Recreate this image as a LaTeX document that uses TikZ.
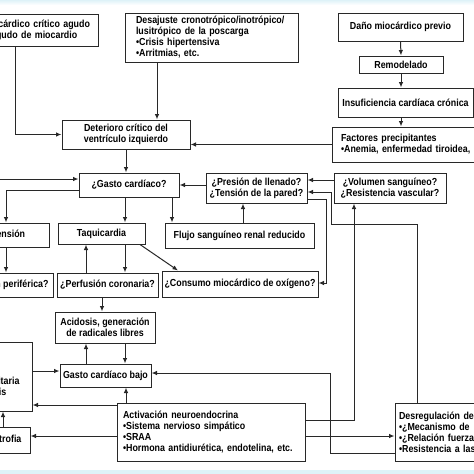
\documentclass[tikz,border=0pt]{standalone}
\usepackage{fontspec}
\setmainfont{Liberation Sans}[FakeStretch=0.87]
\usetikzlibrary{arrows.meta}
\definecolor{lc}{RGB}{40,40,40}
\definecolor{band}{RGB}{222,242,248}
\begin{document}
\begin{tikzpicture}[x=1pt,y=-1pt,
  box/.style={draw=lc, line width=1pt, inner sep=0pt, font=\fontsize{10.2}{11}\selectfont\bfseries, text=black},
  cbox/.style={box, align=center},
  arr/.style={draw=lc, line width=1pt, -{Latex[length=5.5pt,width=4.5pt]}}]
\useasboundingbox (0,0) rectangle (474,474);
\fill[white] (0,0) rectangle (474,474);
\shade[top color=band, bottom color=white] (0,0) rectangle (474,5);
\fill[band] (0,470) rectangle (474,474);

% nodes
\node[box, align=left, text width=136pt, inner xsep=5pt, minimum height=32pt] (A) at (25,30) {Daño miocárdico crítico agudo\\•Infarto agudo de miocardio};
\node[box, align=left, text width=151pt, inner xsep=11pt, minimum height=49pt] (B) at (211.5,37.5) {Desajuste cronotrópico/inotrópico/\\lusitrópico de la poscarga\\•Crisis hipertensiva\\•Arritmias, etc.};
\node[cbox, minimum width=125pt, minimum height=28pt] (C) at (400.5,27) {Daño miocárdico previo};
\node[cbox, minimum width=84pt, minimum height=17pt] (D) at (401,64.5) {Remodelado};
\node[cbox, minimum width=135pt, minimum height=29pt] (E) at (405.5,102.5) {Insuficiencia cardíaca crónica};
\node[box, align=left, text width=140pt, inner xsep=9pt, minimum height=35pt] (F) at (411,144.5) {Factores precipitantes\\•Anemia, enfermedad tiroidea,};
\node[cbox, minimum width=128pt, minimum height=29pt] (G) at (126,134.5) {Deterioro crítico del\\ventrículo izquierdo};
\node[cbox, minimum width=100pt, minimum height=24pt] (H) at (129,185) {¿Gasto cardíaco?};
\node[cbox, minimum width=99pt, minimum height=24pt] (I) at (-0.5,235) {Hipotensión};
\node[cbox, minimum width=104pt, minimum height=24pt] (J) at (1.5,285) {¿Perfusión periférica?};
\node[cbox, minimum width=87pt, minimum height=21pt] (K) at (101.5,233.5) {Taquicardia};
\node[cbox, minimum width=101pt, minimum height=24pt] (L) at (107.5,285) {¿Perfusión coronaria?};
\node[cbox, minimum width=149pt, minimum height=25pt] (M) at (239.5,235.5) {Flujo sanguíneo renal reducido};
\node[cbox, minimum width=156pt, minimum height=26pt] (N) at (240,284) {¿Consumo miocárdico de oxígeno?};
\node[cbox, minimum width=101pt, minimum height=30pt] (O) at (256.5,188) {¿Presión de llenado?\\¿Tensión de la pared?};
\node[cbox, minimum width=112pt, minimum height=30pt] (P) at (390,188) {¿Volumen sanguíneo?\\¿Resistencia vascular?};
\node[cbox, minimum width=100pt, minimum height=31pt] (Q) at (105,327.5) {Acidosis, generación\\de radicales libres};
\node[cbox, minimum width=91pt, minimum height=23pt] (R) at (105.5,375.5) {Gasto cardíaco bajo};
\node[box, minimum width=112pt, minimum height=69pt] (S) at (-24,376.5) {};
\node[cbox, draw=none] (St) at (-17,387.5) {Lesión miocitaria\\•Apoptosis};
\node[cbox, minimum width=62pt, minimum height=26pt] (T) at (-1,440) {Hipertrofia};
\node[box, align=left, text width=176pt, inner xsep=6pt, minimum height=58pt] (U) at (211,432) {Activación neuroendocrina\\•Sistema nervioso simpático\\•SRAA\\•Hormona antidiurética, endotelina, etc.};
\node[box, align=left, text width=200pt, inner xsep=4pt, minimum height=58pt] (V) at (499,432) {Desregulación de\\•¿Mecanismo de\\•¿Relación fuerza\\•Resistencia a las};

% connectors
\draw[arr] ([xshift=-10pt]A.south) |- (G.west);
\draw[arr] (B.south -| 157,0) -- (G.north -| 157,0);
\draw[arr] (C.south) -- (D.north);
\draw[arr] (D.south) -- (E.north -| D.south);
\draw[arr] (E.south -| D.south) -- (F.north -| D.south);
\draw[arr] (F.west) -- (F.west -| G.east);
\draw[arr] (G.south) -- (H.north -| G.south);
\coordinate (in1) at (-5,179);
\draw[arr] (in1) -- (in1 -| H.west);
\draw[arr] (H.west |- 0,190) -| (I.north -| 6,0);
\draw[arr] (H.south -| 125,0) -- (K.north -| 125,0);
\draw[arr] (H.south -| 172,0) -- (M.north -| 172,0);
\draw[arr] (O.west |- H.east) -- (H.east);
\draw[arr] (I.south -| 6,0) -- (J.north -| 6,0);
\draw[arr] (L.north -| 86,0) -- (K.south -| 86,0);
\draw[arr] (K.south -| 125,0) -- (L.north -| 125,0);
\draw[arr] (K.south -| 140,0) -- (N.north -| 178,0);
\draw[arr] (L.south -| 102,0) -- (Q.north -| 102,0);
\draw[arr] (M.north -| 243,0) -- (O.south -| 243,0);
\draw[arr] (O.east |- 0,199) -| (326,283) -- (N.east |- 0,283);
\draw[arr] (P.west |- 0,180) -- (O.east |- 0,180);
\draw[arr] (V.north -| 417,0) |- (331,224) |- (O.east |- 0,192);
\draw[arr] (U.east |- 0,420) -| (P.south -| 354,0);
\draw[arr] (U.east |- 0,436) -- (V.west |- 0,436);
\draw[arr] (V.west |- 0,453) -| (330,373) -- (R.east |- 0,373);
\draw[arr] (S.east |- 0,371) -- (R.west |- 0,371);
\draw[arr] (U.north -| 126,0) -- (R.south -| 126,0);
\draw[arr] (R.north -| 86,0) -- (Q.south -| 86,0);
\draw[arr] (Q.south -| 125,0) -- (R.north -| 125,0);
\draw[arr] (U.west |- 0,405) -- (S.east |- 0,405);
\draw[arr] (U.west |- 0,436) -- (T.east |- 0,436);
\draw[arr] (T.north -| 3,0) -- (S.south -| 3,0);
\end{tikzpicture}
\end{document}
